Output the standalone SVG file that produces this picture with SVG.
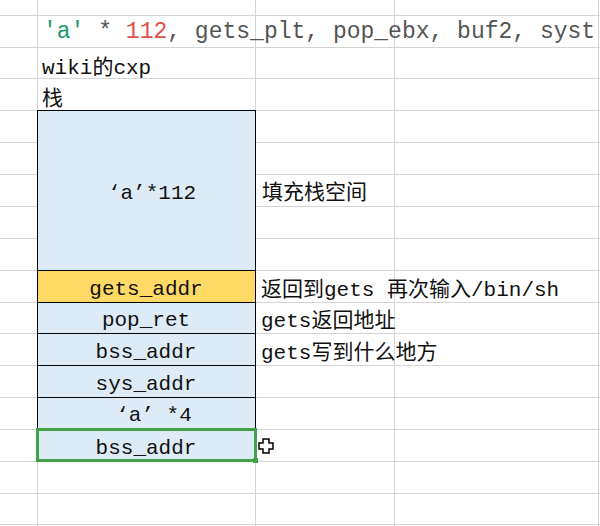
<svg xmlns="http://www.w3.org/2000/svg" width="600" height="526" viewBox="0 0 600 526">
<style>
.g{stroke:#d4d4d4;stroke-width:1}
.t{font-family:"Liberation Mono","Noto Sans CJK SC",monospace;font-size:21px;fill:#111}
.c{text-anchor:middle}
.cell{fill:#ddebf7;stroke:#000;stroke-width:1}
</style>
<rect width="600" height="526" fill="#fff"/>
<g id="grid">
<line class="g" x1="37.5" y1="0" x2="37.5" y2="526"/>
<line class="g" x1="255.5" y1="0" x2="255.5" y2="526"/>
<line class="g" x1="394.5" y1="0" x2="394.5" y2="526"/>
<line class="g" x1="598.5" y1="0" x2="598.5" y2="526"/>
<line class="g" x1="0" y1="15.5" x2="600" y2="15.5"/>
<line class="g" x1="0" y1="47.5" x2="600" y2="47.5"/>
<line class="g" x1="0" y1="78.5" x2="600" y2="78.5"/>
<line class="g" x1="0" y1="110.5" x2="600" y2="110.5"/>
<line class="g" x1="0" y1="142.5" x2="600" y2="142.5"/>
<line class="g" x1="0" y1="174.5" x2="600" y2="174.5"/>
<line class="g" x1="0" y1="206.5" x2="600" y2="206.5"/>
<line class="g" x1="0" y1="238.5" x2="600" y2="238.5"/>
<line class="g" x1="0" y1="270.5" x2="600" y2="270.5"/>
<line class="g" x1="0" y1="302.5" x2="600" y2="302.5"/>
<line class="g" x1="0" y1="333.5" x2="600" y2="333.5"/>
<line class="g" x1="0" y1="365.5" x2="600" y2="365.5"/>
<line class="g" x1="0" y1="397.5" x2="600" y2="397.5"/>
<line class="g" x1="0" y1="429.5" x2="600" y2="429.5"/>
<line class="g" x1="0" y1="461.5" x2="600" y2="461.5"/>
<line class="g" x1="0" y1="493.5" x2="600" y2="493.5"/>
<line class="g" x1="0" y1="524.5" x2="600" y2="524.5"/>
</g>
<text x="43" y="38" style="font-family:'Liberation Mono',monospace;font-size:23px;fill:#555"><tspan fill="#1f9a6c">'a'</tspan> * <tspan fill="#e0534a">112</tspan>, gets_plt, pop_ebx, buf2, syst</text>
<text class="t" x="42" y="74">wiki的cxp</text>
<text class="t" x="42" y="105">栈</text>
<g id="stack">
<rect class="cell" x="37.5" y="110.5" width="218" height="160"/>
<text class="t c" x="152" y="199">‘a’*112</text>
<rect x="37.5" y="270.5" width="218" height="32" fill="#ffd966" stroke="#000"/>
<text class="t c" x="146" y="295">gets_addr</text>
<rect class="cell" x="37.5" y="302.5" width="218" height="31"/>
<text class="t c" x="146" y="326">pop_ret</text>
<rect class="cell" x="37.5" y="333.5" width="218" height="32"/>
<text class="t c" x="146" y="358">bss_addr</text>
<rect class="cell" x="37.5" y="365.5" width="218" height="32"/>
<text class="t c" x="146" y="390">sys_addr</text>
<rect class="cell" x="37.5" y="397.5" width="218" height="32"/>
<text class="t c" x="154" y="421">‘a’ *4</text>
<rect class="cell" x="37.5" y="429.5" width="218" height="32"/>
<rect x="37.5" y="429.5" width="218" height="31" fill="none" stroke="#43a047" stroke-width="3"/>
<rect x="253" y="458" width="5" height="5" fill="#43a047"/>
<text class="t c" x="146" y="454">bss_addr</text>
</g>
<g id="notes">
<text class="t" x="262" y="199">填充栈空间</text>
<text class="t" x="261" y="296">返回到gets 再次输入/bin/sh</text>
<text class="t" x="261" y="327">gets返回地址</text>
<text class="t" x="261" y="359">gets写到什么地方</text>
</g>
<polygon points="263,439 269,439 269,443 273,443 273,449 269,449 269,453 263,453 263,449 259,449 259,443 263,443" fill="#fff" stroke="#000" stroke-width="1.5"/>
</svg>
